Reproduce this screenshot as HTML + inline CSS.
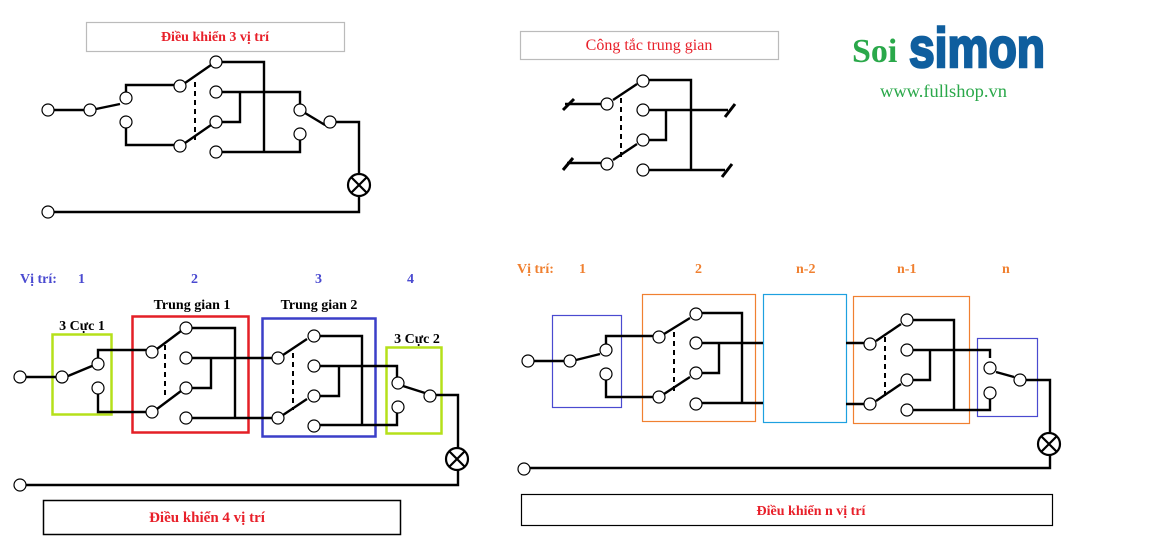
<!DOCTYPE html>
<html><head><meta charset="utf-8"><style>
html,body{margin:0;padding:0;background:#fff;width:1149px;height:558px;overflow:hidden}
svg{display:block}
.w{stroke:#000;stroke-width:2.4;fill:none}
.d{stroke:#000;stroke-width:2;fill:none;stroke-dasharray:5,4}
circle.c{fill:#fff;stroke:#000;stroke-width:1.2}
.t{font-family:"Liberation Serif",serif;font-weight:bold}
</style></head><body>
<svg width="1149" height="558" viewBox="0 0 1149 558" xmlns="http://www.w3.org/2000/svg">
<rect x="86.5" y="22.5" width="258" height="29" fill="#fff" stroke="#bbb" stroke-width="1.2"/>
<text x="215" y="41" text-anchor="middle" class="t" font-size="14" fill="#e8202a">Điều khiển 3 vị trí</text>
<g class="w">
<path d="M54 110H84"/><path d="M96 109L120 104"/>
<path d="M126 92V85H174"/><path d="M126 128V145H174"/>
<path d="M185 83L211 65"/><path d="M185 143L211 125"/>
<path d="M222 62H264V152"/><path d="M222 92H300V104"/>
<path d="M240 92V122H222"/><path d="M222 152H300V140"/>
<path d="M305 113L325 125"/><path d="M336 122H359V174"/>
<path d="M359 196V212H54"/>
</g>
<path class="d" d="M195 82V140"/>
<g>
<circle class="c" cx="48" cy="110" r="6"/><circle class="c" cx="90" cy="110" r="6"/>
<circle class="c" cx="126" cy="98" r="6"/><circle class="c" cx="126" cy="122" r="6"/>
<circle class="c" cx="180" cy="86" r="6"/><circle class="c" cx="180" cy="146" r="6"/>
<circle class="c" cx="216" cy="62" r="6"/><circle class="c" cx="216" cy="92" r="6"/>
<circle class="c" cx="216" cy="122" r="6"/><circle class="c" cx="216" cy="152" r="6"/>
<circle class="c" cx="300" cy="110" r="6"/><circle class="c" cx="300" cy="134" r="6"/>
<circle class="c" cx="330" cy="122" r="6"/><circle class="c" cx="48" cy="212" r="6"/>
</g>
<g stroke="#000" stroke-width="2.2" fill="#fff"><circle cx="359" cy="185" r="11"/><path d="M351 177L367 193M367 177L351 193"/></g>

<rect x="520.5" y="31.5" width="258" height="28" fill="#fff" stroke="#bbb" stroke-width="1.2"/>
<text x="649" y="50" text-anchor="middle" font-family="Liberation Serif,serif" font-size="16" fill="#e8202a">Công tắc trung gian</text>
<g class="w">
<path d="M565 104H601"/><path d="M563 110L574 99" stroke-width="3"/>
<path d="M567 163H601"/><path d="M563 170L573 158" stroke-width="3"/>
<path d="M613 100L637 84"/><path d="M613 160L637 144"/>
<path d="M649 80H691V170"/><path d="M649 110H728"/><path d="M725 117L735 104" stroke-width="3"/>
<path d="M666 110V140H649"/><path d="M649 170H725"/><path d="M722 177L732 164" stroke-width="3"/>
</g>
<path class="d" d="M621 98V157"/>
<circle class="c" cx="607" cy="104" r="6"/><circle class="c" cx="643" cy="81" r="6"/>
<circle class="c" cx="643" cy="110" r="6"/><circle class="c" cx="643" cy="140" r="6"/>
<circle class="c" cx="607" cy="164" r="6"/><circle class="c" cx="643" cy="170" r="6"/>

<text x="852" y="62" font-family="Liberation Serif,serif" font-weight="bold" font-size="34" fill="#2aa84a">Soi</text>
<text x="909" y="67" font-family="Liberation Sans,sans-serif" font-weight="bold" font-size="56" fill="#0f5e9e" stroke="#0f5e9e" stroke-width="2.5" textLength="136" lengthAdjust="spacingAndGlyphs">simon</text>
<text x="880" y="97" font-family="Liberation Serif,serif" font-size="18" fill="#2aa84a" textLength="127" lengthAdjust="spacingAndGlyphs">www.fullshop.vn</text>

<g class="t" font-size="14" fill="#4a4ad0">
<text x="20" y="283">Vị trí:</text><text x="78" y="283">1</text><text x="191" y="283">2</text><text x="315" y="283">3</text><text x="407" y="283">4</text>
</g>
<g class="t" font-size="14" fill="#000">
<text x="82" y="330" text-anchor="middle">3 Cực 1</text>
<text x="192" y="309" text-anchor="middle">Trung gian 1</text>
<text x="319" y="309" text-anchor="middle">Trung gian 2</text>
<text x="417" y="343" text-anchor="middle">3 Cực 2</text>
</g>
<rect x="52.5" y="334.5" width="59" height="80" fill="none" stroke="#b5e01a" stroke-width="2.5"/>
<rect x="132.5" y="316.5" width="116" height="116" fill="none" stroke="#e41f26" stroke-width="2.5"/>
<rect x="262.5" y="318.5" width="113" height="118" fill="none" stroke="#3b3fc8" stroke-width="2.5"/>
<rect x="386.5" y="347.5" width="55" height="86" fill="none" stroke="#b5e01a" stroke-width="2.5"/>
<g class="w">
<path d="M26 377H56"/><path d="M68 376L92 366"/>
<path d="M98 358V350H146"/><path d="M98 394V412H146"/>
<path d="M157 349L181 331"/><path d="M157 409L181 391"/>
<path d="M192 328H235V418"/><path d="M192 358H272"/>
<path d="M211 358V388H192"/><path d="M192 418H272"/>
<path d="M283 355L307 339"/><path d="M283 415L307 399"/>
<path d="M320 336H362V425"/><path d="M320 366H397V377"/>
<path d="M339 366V396H320"/><path d="M320 425H397V413"/>
<path d="M403 386L425 393"/><path d="M436 395H458V448"/>
<path d="M458 470V485H26"/>
</g>
<path class="d" d="M165 345V398"/><path class="d" d="M293 353V410"/>
<g>
<circle class="c" cx="20" cy="377" r="6"/><circle class="c" cx="62" cy="377" r="6"/>
<circle class="c" cx="98" cy="364" r="6"/><circle class="c" cx="98" cy="388" r="6"/>
<circle class="c" cx="152" cy="352" r="6"/><circle class="c" cx="152" cy="412" r="6"/>
<circle class="c" cx="186" cy="328" r="6"/><circle class="c" cx="186" cy="358" r="6"/>
<circle class="c" cx="186" cy="388" r="6"/><circle class="c" cx="186" cy="418" r="6"/>
<circle class="c" cx="278" cy="358" r="6"/><circle class="c" cx="278" cy="418" r="6"/>
<circle class="c" cx="314" cy="336" r="6"/><circle class="c" cx="314" cy="366" r="6"/>
<circle class="c" cx="314" cy="396" r="6"/><circle class="c" cx="314" cy="426" r="6"/>
<circle class="c" cx="398" cy="383" r="6"/><circle class="c" cx="398" cy="407" r="6"/>
<circle class="c" cx="430" cy="396" r="6"/><circle class="c" cx="20" cy="485" r="6"/>
</g>
<g stroke="#000" stroke-width="2.2" fill="#fff"><circle cx="457" cy="459" r="11"/><path d="M449 451L465 467M465 451L449 467"/></g>
<rect x="43.5" y="500.5" width="357" height="34" fill="#fff" stroke="#000" stroke-width="1.5"/>
<text x="207" y="522" text-anchor="middle" class="t" font-size="15" fill="#e8202a">Điều khiển 4 vị trí</text>

<g class="t" font-size="14" fill="#f08030">
<text x="517" y="273">Vị trí:</text><text x="579" y="273">1</text><text x="695" y="273">2</text><text x="796" y="273">n-2</text><text x="897" y="273">n-1</text><text x="1002" y="273">n</text>
</g>
<rect x="552.5" y="315.5" width="69" height="92" fill="none" stroke="#4a4ad0" stroke-width="1.2"/>
<rect x="642.5" y="294.5" width="113" height="127" fill="none" stroke="#f08030" stroke-width="1.2"/>
<rect x="763.5" y="294.5" width="83" height="128" fill="none" stroke="#1ea0e0" stroke-width="1.2"/>
<rect x="853.5" y="296.5" width="116" height="127" fill="none" stroke="#f08030" stroke-width="1.2"/>
<rect x="977.5" y="338.5" width="60" height="78" fill="none" stroke="#4a4ad0" stroke-width="1.2"/>
<g class="w">
<path d="M534 361H564"/><path d="M576 360L600 354"/>
<path d="M606 344V336H653"/><path d="M606 380V397H653"/>
<path d="M664 334L690 318"/><path d="M664 394L690 377"/>
<path d="M702 313H742V403"/><path d="M702 343H763"/>
<path d="M719 343V373H702"/><path d="M702 403H763"/>
<path d="M846 343H864"/><path d="M846 404H864"/>
<path d="M876 341L901 324"/><path d="M876 401L901 384"/>
<path d="M913 320H954V410"/><path d="M913 350H990V358"/>
<path d="M930 350V380H913"/><path d="M913 410H990V398"/>
<path d="M996 372L1014 377"/><path d="M1026 380H1050V433"/>
<path d="M1050 455V468H530"/>
</g>
<path class="d" d="M674 332V391"/><path class="d" d="M885 337V397"/>
<g>
<circle class="c" cx="528" cy="361" r="6"/><circle class="c" cx="570" cy="361" r="6"/>
<circle class="c" cx="606" cy="350" r="6"/><circle class="c" cx="606" cy="374" r="6"/>
<circle class="c" cx="659" cy="337" r="6"/><circle class="c" cx="659" cy="397" r="6"/>
<circle class="c" cx="696" cy="314" r="6"/><circle class="c" cx="696" cy="343" r="6"/>
<circle class="c" cx="696" cy="373" r="6"/><circle class="c" cx="696" cy="404" r="6"/>
<circle class="c" cx="870" cy="344" r="6"/><circle class="c" cx="870" cy="404" r="6"/>
<circle class="c" cx="907" cy="320" r="6"/><circle class="c" cx="907" cy="350" r="6"/>
<circle class="c" cx="907" cy="380" r="6"/><circle class="c" cx="907" cy="410" r="6"/>
<circle class="c" cx="990" cy="368" r="6"/><circle class="c" cx="990" cy="393" r="6"/>
<circle class="c" cx="1020" cy="380" r="6"/><circle class="c" cx="524" cy="469" r="6"/>
</g>
<g stroke="#000" stroke-width="2.2" fill="#fff"><circle cx="1049" cy="444" r="11"/><path d="M1041 436L1057 452M1057 436L1041 452"/></g>
<rect x="521.5" y="494.5" width="531" height="31" fill="#fff" stroke="#000" stroke-width="1.2"/>
<text x="811" y="515" text-anchor="middle" class="t" font-size="14" fill="#e8202a">Điều khiển n vị trí</text>
</svg>
</body></html>
